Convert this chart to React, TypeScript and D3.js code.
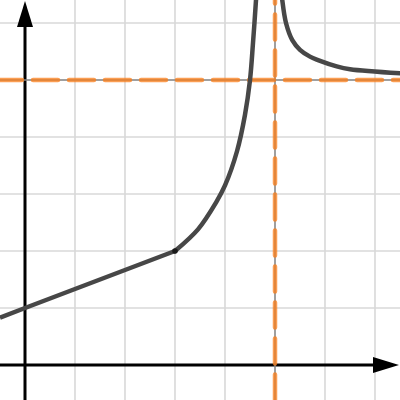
import React from "react";
import * as d3 from "d3";

// grid ticks (graph units)
const xTicks = [1, 2, 3, 4, 5, 6, 7];
const yTicks = [1, 2, 3, 4, 5, 6];

// straight piece
const linePart: [number, number][] = [
  [-0.5, 0.83],
  [0, 1],
  [3, 2],
];

// curve left of the vertical asymptote
const leftBranch: [number, number][] = [
  [3, 2],
  [3.46, 2.38],
  [3.82, 2.85],
  [4.0, 3.15],
  [4.24, 3.75],
  [4.4, 4.39],
  [4.5, 5.0],
  [4.56, 5.65],
  [4.62, 6.4],
  [4.66, 7.0],
];

// curve right of the vertical asymptote
const rightBranch: [number, number][] = [
  [5.106, 6.8],
  [5.146, 6.4],
  [5.22, 6.0],
  [5.346, 5.7],
  [5.5, 5.53],
  [5.7, 5.41],
  [5.86, 5.35],
  [6.234, 5.24],
  [6.5, 5.19],
  [7.5, 5.12],
];

const joint: [number, number] = [3, 2];
const asymptoteX = 5;
const asymptoteY = 5;

const W = 400;
const H = 400;

export default function App() {
  const x = d3.scaleLinear().domain([-0.5, 7.5]).range([0, W]);
  const y = d3.scaleLinear().domain([0, 7]).range([365, 365 - 7 * 57]);

  const straight = d3
    .line<[number, number]>()
    .x((d) => x(d[0]))
    .y((d) => y(d[1]));
  const smooth = d3
    .line<[number, number]>()
    .x((d) => x(d[0]))
    .y((d) => y(d[1]))
    .curve(d3.curveCatmullRom.alpha(0.5));

  const x0 = x(0);
  const y0 = y(0);
  const ax = x(asymptoteX);
  const ay = y(asymptoteY);

  return (
    <div style={{ position: "absolute", left: 0, top: 0 }}>
      <svg width={W} height={H} style={{ display: "block", background: "#fff" }}>
        <defs>
          <clipPath id="plot">
            <rect width={W} height={H} />
          </clipPath>
        </defs>
        <g clipPath="url(#plot)">
          {/* grid */}
          {xTicks.map((t) => (
            <line key={"gx" + t} x1={x(t)} x2={x(t)} y1={0} y2={H} stroke="#d8d8d8" strokeWidth={1.6} />
          ))}
          {yTicks.map((t) => (
            <line key={"gy" + t} x1={0} x2={W} y1={y(t)} y2={y(t)} stroke="#d8d8d8" strokeWidth={1.6} />
          ))}

          {/* axes */}
          <line x1={x0} x2={x0} y1={26} y2={H} stroke="#000" strokeWidth={3} />
          <polygon points={`${x0},1 ${x0 - 8},27 ${x0 + 8},27`} fill="#000" />
          <line x1={0} x2={374} y1={y0} y2={y0} stroke="#000" strokeWidth={3} />
          <polygon points={`${W - 1},${y0} ${373},${y0 - 8} ${373},${y0 + 8}`} fill="#000" />

          {/* asymptotes */}
          <line x1={0} x2={W} y1={ay} y2={ay} stroke="#8a8a8a" strokeWidth={1.5} />
          <line x1={ax} x2={ax} y1={0} y2={H} stroke="#8a8a8a" strokeWidth={1.5} />
          <line
            x1={0}
            x2={W}
            y1={ay}
            y2={ay}
            stroke="#fa7e19"
            strokeOpacity={0.75}
            strokeWidth={4.5}
            strokeDasharray="25 11"
            strokeDashoffset={3}
            strokeLinecap="round"
          />
          <line
            x1={ax}
            x2={ax}
            y1={0}
            y2={H}
            stroke="#fa7e19"
            strokeOpacity={0.75}
            strokeWidth={4.5}
            strokeDasharray="25 11"
            strokeDashoffset={21.5}
            strokeLinecap="round"
          />

          {/* function */}
          <path d={straight(linePart) ?? ""} fill="none" stroke="#474747" strokeWidth={4.5} strokeLinejoin="round" />
          <path d={smooth(leftBranch) ?? ""} fill="none" stroke="#474747" strokeWidth={4.5} strokeLinecap="round" />
          <path d={smooth(rightBranch) ?? ""} fill="none" stroke="#474747" strokeWidth={4.5} strokeLinecap="round" />
          <circle cx={x(joint[0])} cy={y(joint[1])} r={2.8} fill="#1a1a1a" />
        </g>
      </svg>
    </div>
  );
}
